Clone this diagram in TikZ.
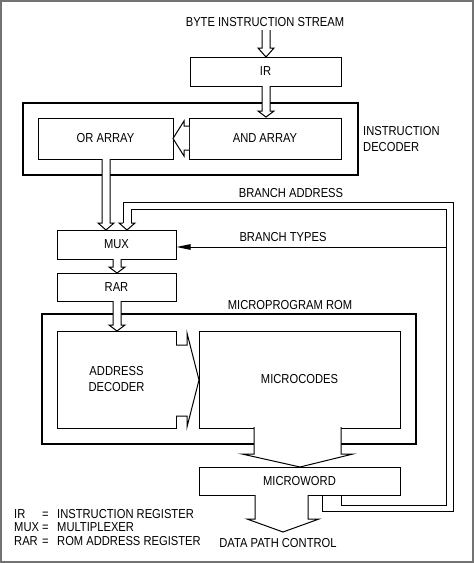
\documentclass[tikz,border=0pt]{standalone}
\usepackage{fontspec}
\setmainfont{Liberation Sans}[FakeStretch=0.86]
\usetikzlibrary{arrows.meta}

\newcommand{\diagfont}{\fontsize{13}{16}\selectfont}

\tikzset{
  block/.style={draw, rectangle, line width=1pt, inner sep=0pt, font=\diagfont},
  frame/.style={draw, rectangle, line width=2.6pt, inner sep=0pt},
  hollow/.style={draw, line width=1pt, fill=white, line join=miter},
  wire/.style={draw, line width=1pt},
  tag/.style={inner sep=0pt, font=\diagfont}
}

\begin{document}
\begin{tikzpicture}[x=1pt,y=-1pt]
    \useasboundingbox (0,0) rectangle (474,563);
    \draw[black!55, line width=1.5pt] (1,1) rectangle (473,562);

    % instruction side
    \node[tag](stream) at (265,22) {BYTE INSTRUCTION STREAM};
    \node[block,
    minimum width = 151pt,
    minimum height = 29pt
    ](ir) at (265.5,71.5) {IR};

    \node[frame,
    minimum width = 335pt,
    minimum height = 72pt
    ](decoder) at (190.5,139) {};
    \node[tag, anchor=west, align=left](decodertag) at (363,139) {INSTRUCTION\\DECODER};

    \node[block,
    minimum width = 135pt,
    minimum height = 41pt
    ](orarray) at (105.5,138.5) {OR ARRAY};
    \node[block,
    minimum width = 152pt,
    minimum height = 41pt
    ](andarray) at (265,138.5) {AND ARRAY};

    \node[block,
    minimum width = 119pt,
    minimum height = 29pt
    ](mux) at (116.5,244.5) {MUX};
    \node[block,
    minimum width = 119pt,
    minimum height = 28pt
    ](rar) at (116.5,287) {RAR};

    % microprogram rom
    \node[tag](romtag) at (290,305) {MICROPROGRAM ROM};
    \node[frame,
    minimum width = 374pt,
    minimum height = 130pt
    ](rom) at (229,379) {};
    \node[block,
    align=center,
    minimum width = 119pt,
    minimum height = 97pt
    ](addrdec) at (116.5,379.5) {ADDRESS\\DECODER};
    \node[block,
    minimum width = 201pt,
    minimum height = 97pt
    ](microcodes) at (299.5,379.5) {MICROCODES};
    \node[block,
    minimum width = 201pt,
    minimum height = 28pt
    ](microword) at (299.5,481) {MICROWORD};
    \node[tag](datapath) at (278,543) {DATA PATH CONTROL};

    % wide arrows
    \draw[hollow] (262,30) -- (262,48) -- (258,48) -- (266,57) -- (274,48) -- (270,48) -- (270,30);
    \draw[hollow] (262,86) -- (262,111) -- (258,111) -- (266,117) -- (274,111) -- (270,111) -- (270,86);
    \draw[hollow] (189,126) -- (184,126) -- (184,121) -- (173,138.5) -- (184,156) -- (184,150) -- (189,150);
    \draw[hollow] (102,159) -- (102,223) -- (98,223) -- (106,230) -- (114,223) -- (110,223) -- (110,159);
    \draw[hollow] (113,259) -- (113,267) -- (109,267) -- (117,273) -- (125,267) -- (121,267) -- (121,259);
    \draw[hollow] (113,301) -- (113,325) -- (109,325) -- (117,331) -- (125,325) -- (121,325) -- (121,301);
    \draw[hollow] (176,345) -- (187,345) -- (187,333) -- (199,380) -- (187,427) -- (187,416) -- (176,416);
    \draw[hollow] (254,427) -- (254,454) -- (242,454) -- (300,467) -- (353,454) -- (341,454) -- (341,427);
    \draw[hollow] (255,495) -- (255,519) -- (247,519) -- (283,532) -- (319,519) -- (308,519) -- (308,495);

    % branch address loop
    \draw[wire] (322,495) -- (322,511) -- (453,511) -- (453,202) -- (123,202) -- (123,223);
    \draw[wire] (341,495) -- (341,505) -- (446,505) -- (446,209) -- (131,209) -- (131,223);
    \draw[hollow] (123,223) -- (119,223) -- (127,230) -- (135,223) -- (131,223);
    \node[tag](branchaddr) at (291,193) {BRANCH ADDRESS};

    % branch types
    \coordinate (bt) at (446,247);
    \draw[wire, -{Triangle[length=14pt,width=5.5pt]}] (bt) -- (bt -| mux.east);
    \node[tag](branchtypes) at (283,237) {BRANCH TYPES};

    % legend
    \node[tag, anchor=west, font=\fontsize{13}{13.5}\selectfont](legend) at (14,529) {%
      \begin{tabular}{@{}p{28pt}@{}p{15pt}@{}l@{}}
        IR & = & INSTRUCTION REGISTER\\
        MUX & = & MULTIPLEXER\\
        RAR & = & ROM ADDRESS REGISTER
      \end{tabular}};

\end{tikzpicture}
\end{document}
